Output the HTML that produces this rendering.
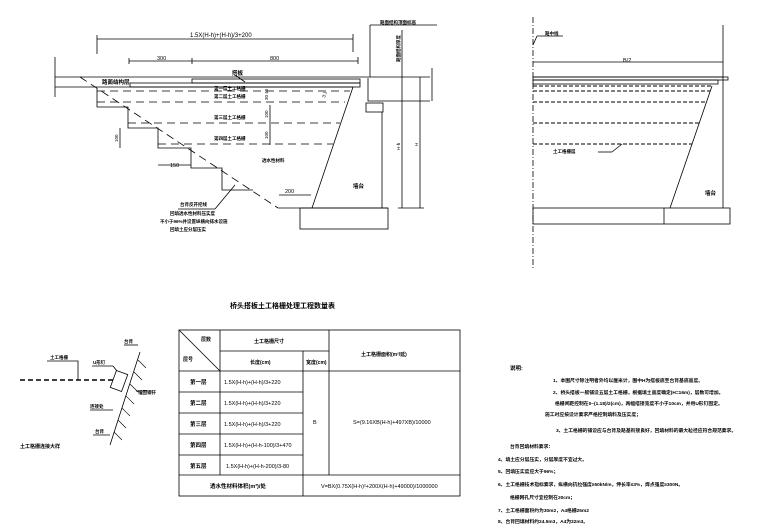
<!DOCTYPE html>
<html><head><meta charset="utf-8"><style>
html,body{margin:0;padding:0;background:#fff;}
svg{display:block;}
text{font-family:"Liberation Sans","Noto Sans CJK SC",sans-serif;fill:#000;font-weight:bold;}
text.n{font-weight:normal;}
</style></head><body>
<svg width="760" height="531" viewBox="0 0 760 531" xmlns="http://www.w3.org/2000/svg">
<g stroke="#000" stroke-width="0.8" fill="none">
<line x1="97" y1="39" x2="353" y2="39"/><line x1="97" y1="35" x2="97" y2="54"/><line x1="353" y1="34" x2="353" y2="52"/>
<line x1="129" y1="61" x2="358" y2="61"/><line x1="129" y1="58" x2="129" y2="64"/><line x1="192" y1="58" x2="192" y2="64"/><line x1="358" y1="57" x2="358" y2="64"/>
<line x1="55" y1="77" x2="430" y2="77"/><line x1="55" y1="87" x2="97" y2="87"/>
<line x1="55" y1="57" x2="55" y2="97"/>
<rect x="130" y="83" width="230" height="4"/><rect x="192" y="79" width="168" height="4"/>
<line x1="97" y1="87" x2="353" y2="87"/>
<line x1="353" y1="87" x2="312" y2="208"/>
<g stroke-dasharray="8,5"><line x1="97" y1="91" x2="350" y2="91"/><line x1="97" y1="102" x2="345" y2="102"/><line x1="128" y1="123" x2="340" y2="123"/><line x1="158" y1="144" x2="333" y2="144"/>
<line x1="80" y1="77" x2="278" y2="208"/></g>
<polyline points="97,88 97,107 128,107 128,128 158,128 158,148 191,148 191,168 222,168 222,190 253,190"/>
<line x1="120" y1="128" x2="120" y2="148"/><line x1="158" y1="165" x2="191" y2="165"/>
<line x1="270" y1="105" x2="270" y2="145"/>
<line x1="278" y1="208" x2="388" y2="208"/>
<rect x="300" y="208" width="88" height="21"/>
<line x1="279" y1="195" x2="311" y2="195"/>
<line x1="382" y1="112" x2="382" y2="208"/>
<rect x="366" y="103" width="17" height="9"/>
<polyline points="368,78 368,101 430,101"/><line x1="370" y1="25" x2="370" y2="77"/><line x1="370" y1="25" x2="437" y2="25"/>
<line x1="402" y1="30" x2="402" y2="208"/><line x1="420" y1="77" x2="420" y2="208"/>
<line x1="398" y1="208" x2="424" y2="208"/>
<line x1="432" y1="68" x2="432" y2="101"/>
<line x1="178" y1="209" x2="215" y2="209"/><line x1="215" y1="209" x2="235" y2="185"/>
<line x1="235" y1="75" x2="245" y2="82"/>
<line x1="533" y1="17" x2="533" y2="270" stroke-dasharray="6,2,1,2"/>
<line x1="723" y1="25" x2="723" y2="208"/>
<line x1="533" y1="62" x2="723" y2="62"/>
<line x1="533" y1="77" x2="723" y2="77"/>
<rect x="533" y="77" width="195" height="3"/><rect x="533" y="80" width="185" height="4"/>
<g stroke-dasharray="4,2" stroke-width="1"><line x1="533" y1="86" x2="712" y2="86"/><line x1="533" y1="91" x2="710" y2="91"/><line x1="533" y1="102" x2="706" y2="102"/><line x1="533" y1="123" x2="699" y2="123"/><line x1="533" y1="144" x2="692" y2="144"/></g>
<line x1="712" y1="86" x2="670" y2="208"/>
<rect x="533" y="208" width="197" height="16"/><line x1="664" y1="208" x2="664" y2="224"/>
<line x1="598" y1="152" x2="612" y2="152"/><line x1="612" y1="152" x2="622" y2="144"/>
<line x1="537" y1="36" x2="563" y2="36"/><line x1="537" y1="36" x2="533" y2="45"/>
<rect x="179" y="330" width="281" height="166"/>
<line x1="220" y1="330" x2="220" y2="475"/><line x1="329" y1="330" x2="329" y2="475"/>
<line x1="303" y1="351" x2="303" y2="496"/>
<line x1="220" y1="351" x2="329" y2="351"/>
<line x1="179" y1="371" x2="460" y2="371"/>
<line x1="179" y1="392" x2="303" y2="392"/><line x1="179" y1="413" x2="303" y2="413"/><line x1="179" y1="434" x2="303" y2="434"/><line x1="179" y1="455" x2="303" y2="455"/>
<line x1="179" y1="475" x2="460" y2="475"/>
<line x1="179" y1="330" x2="220" y2="371"/>
<line x1="20" y1="380" x2="115" y2="380" stroke-dasharray="5,3" stroke-width="1.5"/>
<line x1="110" y1="445" x2="140" y2="352"/>
<polyline points="47,361 78,361 78,380"/>
<rect x="113" y="372" width="12" height="18" transform="rotate(20 119 381)"/>
<line x1="92" y1="366" x2="113" y2="366"/><line x1="113" y1="366" x2="117" y2="371"/>
<line x1="90" y1="410" x2="113" y2="410"/><line x1="93" y1="435" x2="110" y2="435"/>
<line x1="124" y1="345" x2="138" y2="345"/><line x1="136" y1="391" x2="147" y2="391"/>
<g stroke-width="0.6"><line x1="138" y1="360" x2="146" y2="368"/><line x1="134" y1="372" x2="142" y2="380"/><line x1="130" y1="384" x2="138" y2="392"/><line x1="126" y1="396" x2="134" y2="404"/><line x1="122" y1="408" x2="130" y2="416"/><line x1="118" y1="420" x2="126" y2="428"/><line x1="114" y1="432" x2="122" y2="440"/></g>
</g>
<g font-size="5.5">
<text class="n" x="190" y="37" font-size="6">1.5X(H-h)+(H-h)/3+200</text>
<text class="n" x="157" y="60">300</text><text class="n" x="270" y="60">800</text>
<text x="232" y="75">搭板</text>
<text x="102" y="84">路面结构层</text>
<text x="214" y="90" font-size="4.5">第一层土工格栅</text><text x="214" y="98" font-size="4.5">第二层土工格栅</text>
<text x="214" y="119" font-size="4.5">第三层土工格栅</text><text x="214" y="140" font-size="4.5">第四层土工格栅</text>
<text x="262" y="162" font-size="4.5">透水性材料</text>
<text x="353" y="188">墙台</text>
<text class="n" x="285" y="193">200</text><text class="n" x="170" y="167">150</text>
<text x="380" y="24" font-size="4.5">路面结构顶面标高</text>
<text x="180" y="206" font-size="4.5">台背反开挖线</text>
<text x="170" y="215" font-size="4.5">回填透水性材料压实度</text>
<text x="160" y="223" font-size="4.5">不小于96%并设置纵横向排水设施</text>
<text x="170" y="231" font-size="4.5">回填土应分层压实</text>
<text class="n" x="325" y="98" font-size="4.5" transform="rotate(-72 325 98)">3:1</text>
<text x="705" y="195">墙台</text>
<text class="n" x="623" y="62">B/2</text>
<text x="545" y="35" font-size="4.5">路中线</text>
<text x="553" y="153" font-size="4.5">土工格栅层</text>
<text x="230" y="308" font-size="7">桥头搭板土工格栅处理工程数量表</text>
<text x="201" y="341" font-size="5">层数</text><text x="183" y="361" font-size="5">层号</text>
<text x="254" y="343" font-size="5">土工格栅尺寸</text>
<text x="250" y="364" font-size="5">长度(cm)</text><text x="306" y="364" font-size="5">宽度(cm)</text>
<text x="361" y="356" font-size="5">土工格栅面积(m²/延)</text>
<text x="190" y="384">第一层</text><text x="190" y="405">第二层</text><text x="190" y="426">第三层</text><text x="190" y="447">第四层</text><text x="190" y="468">第五层</text>
<text class="n" x="224" y="384">1.5X(H-h)+(H-h)/3+220</text>
<text class="n" x="224" y="405">1.5X(H-h)+(H-h)/3+220</text>
<text class="n" x="224" y="426">1.5X(H-h)+(H-h)/3+220</text>
<text class="n" x="224" y="447">1.5X(H-h)+(H-h-100)/3+470</text>
<text class="n" x="226" y="468">1.5X(H-h)+(H-h-200)/3-80</text>
<text class="n" x="313" y="424">B</text>
<text class="n" x="353" y="424">S=(9.16XB(H-h)+497XB)/10000</text>
<text x="210" y="488">透水性材料体积(m³)/处</text>
<text class="n" x="321" y="488">V=BX(0.75X(H-h)²+200X(H-h)+49000)/1000000</text>
<text x="20" y="448" font-size="5">土工格栅连接大样</text>
<text x="50" y="359" font-size="4.5">土工格栅</text><text x="93" y="364" font-size="4.5">U形钉</text>
<text x="124" y="343" font-size="4.5">台背</text><text x="138" y="394" font-size="4.5">锚固钢钎</text>
<text x="90" y="408" font-size="4.5">连接处</text><text x="95" y="433" font-size="4.5">台背</text>
<text x="510" y="370">说明:</text>
<g font-size="4.8">
<text x="553" y="382">1、本图尺寸除注明者外均以厘米计，图中H为搭板底至台背基底高度。</text>
<text x="553" y="394">2、桥头搭板一般铺设五层土工格栅，根据填土高度确定(H=16m)，层数可增加。</text>
<text x="555" y="405">格栅间距控制在0~(1.18)/2(cm)，两幅搭接宽度不小于10cm，并用U形钉固定。</text>
<text x="545" y="416">施工时应按设计要求严格控制填料及压实度；</text>
<text x="556" y="432">3、土工格栅的铺设应与台背及路基衔接良好，回填材料的最大粒径应符合规范要求。</text>
<text x="510" y="448">台背回填材料要求：</text>
<text x="498" y="461">4、填土应分层压实，分层厚度不宜过大。</text>
<text x="498" y="473">5、回填压实度应大于96%；</text>
<text x="498" y="486">6、土工格栅技术指标要求，纵横向抗拉强度≥50kN/m，伸长率≤3%，焊点强度≥300N。</text>
<text x="510" y="499">格栅网孔尺寸宜控制在20cm；</text>
<text x="498" y="512">7、土工格栅面积约为30m2，A4格栅25m2</text>
<text x="498" y="523">8、台背回填材料约24.5m3，A4为32m3。</text>
</g>
</g>
<g font-size="4.5">
<text class="n" x="268" y="100" transform="rotate(-90 268 100)">30 40</text>
<text class="n" x="268" y="118" transform="rotate(-90 268 118)">100</text>
<text class="n" x="268" y="139" transform="rotate(-90 268 139)">100</text>
<text class="n" x="118" y="142" transform="rotate(-90 118 142)">100</text>
<text class="n" x="400" y="150" transform="rotate(-90 400 150)">H-h</text>
<text class="n" x="418" y="146" transform="rotate(-90 418 146)">H</text>
<text x="400" y="62" transform="rotate(-90 400 62)">路面结构厚度</text>
</g>
</svg>
</body></html>
